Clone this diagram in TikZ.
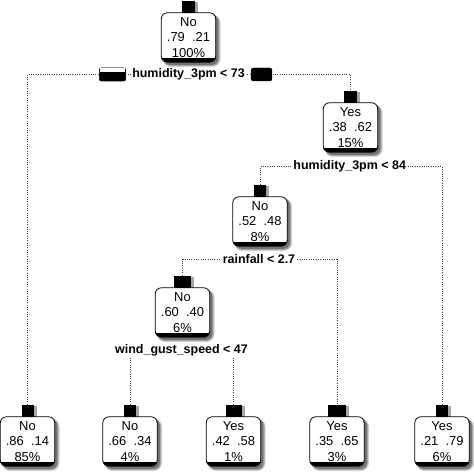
\documentclass[tikz,border=0pt]{standalone}
\usepackage{fontspec}
\setmainfont{Liberation Sans}
\begin{document}
\begin{tikzpicture}[x=1bp,y=-1bp,
  nodebox/.style={minimum width=54bp,minimum height=49bp,inner sep=0pt,fill=white,
    rounded corners=6bp,align=center,font=\fontsize{13}{15.5}\selectfont},
  tabbox/.style={fill=black,inner sep=0pt,minimum height=12bp},
  splitlabel/.style={fill=white,inner sep=1.5bp,font=\bfseries\fontsize{12.5}{15}\selectfont},
  branch/.style={draw=black!75,line width=0.7bp,dash pattern=on 0.8bp off 1.5bp},
  shA/.style={fill=black!16},
  shB/.style={fill=black!35},
  shC/.style={fill=black!55}]
\useasboundingbox[fill=white] (0,0) rectangle (474,475);
\newcommand\treenode[7]{%
  \fill[shA,rounded corners=8bp] (#2-27+1.5,#3+1.5) rectangle (#2+27+5,#3+49+5);
  \fill[shB,rounded corners=7bp] (#2-27+2,#3+2) rectangle (#2+27+4,#3+49+4);
  \fill[shC,rounded corners=6bp] (#2-27+2.5,#3+2.5) rectangle (#2+27+2.8,#3+49+2.8);
  \fill[shB] (#2-#4/2+2,#3-11) rectangle (#2+#4/2+3,#3);
  \node[nodebox] (#1) at (#2,#3+24.5) {#5\\#6\\#7};
  \begin{scope}
    \clip[rounded corners=6bp] (#1.south west) rectangle (#1.north east);
    \fill[black] (#1.south west) rectangle ([yshift=4.5bp]#1.south east);
  \end{scope}
  \draw[rounded corners=6bp,line width=0.8bp] (#1.south west) rectangle (#1.north east);
  \node[tabbox,minimum width=#4bp,anchor=south] (#1t) at (#1.north) {};
}
% split positions
\coordinate (s1c) at (188.5,74.5);
\coordinate (s3c) at (349.7,166.5);
\coordinate (s6c) at (259,259);
\coordinate (s12c) at (181.5,350);
% nodes
\treenode{N1}{188.5}{13}{13}{No}{.79\ \ .21}{100\%}
\treenode{N3}{350.5}{103}{13}{Yes}{.38\ \ .62}{15\%}
\treenode{N6}{260}{197}{12}{No}{.52\ \ .48}{8\%}
\treenode{N12}{182.5}{288}{17}{No}{.60\ \ .40}{6\%}
\treenode{L1}{27.5}{417}{12}{No}{.86\ \ .14}{85\%}
\treenode{L2}{130}{417}{12}{No}{.66\ \ .34}{4\%}
\treenode{L3}{233.5}{417}{16}{Yes}{.42\ \ .58}{1\%}
\treenode{L4}{337}{417}{18}{Yes}{.35\ \ .65}{3\%}
\treenode{L5}{442}{417}{12}{Yes}{.21\ \ .79}{6\%}
% connectors
\draw[branch] (L1t.north) |- (s1c) -| (N3t.north);
\draw[branch] (N6t.north) |- (s3c) -| (L5t.north);
\draw[branch] (N12t.north) |- (s6c) -| (L4t.north);
\draw[branch] (L2t.north) |- (s12c) -| (L3t.north);
% split labels
\node[splitlabel] (s1) at (s1c) {humidity\_3pm < 73};
\node[splitlabel] (s3) at (s3c) {humidity\_3pm < 84};
\node[splitlabel] (s6) at (s6c) {rainfall < 2.7};
\node[splitlabel] (s12) at (s12c) {wind\_gust\_speed < 47};
% root split boxes
\node[draw=black,line width=0.6bp,fill=black,rounded corners=2bp,minimum width=26.4bp,minimum height=13bp,inner sep=0pt] (s1l) at (112.5,74.5) {};
\begin{scope}
  \clip[rounded corners=2bp] (s1l.south west) rectangle (s1l.north east);
  \fill[white] ([xshift=0.6bp,yshift=-0.6bp]s1l.north west) rectangle ([xshift=-0.6bp,yshift=-4bp]s1l.north east);
\end{scope}
\node[draw=black,fill=black,rounded corners=2bp,minimum width=20.7bp,minimum height=13bp,inner sep=0pt] (s1r) at (261.5,74.5) {};
\end{tikzpicture}
\end{document}
